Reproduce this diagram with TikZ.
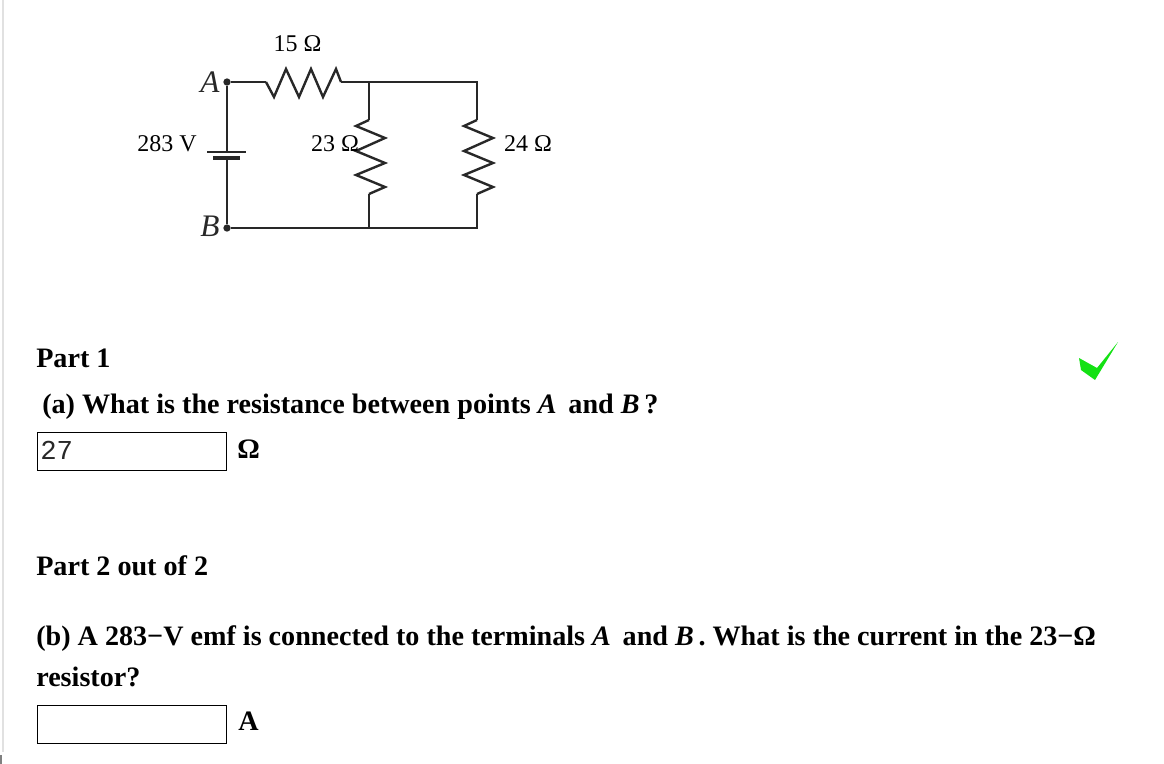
\documentclass[tikz,border=0pt]{standalone}
\usepackage{fontspec}
\setmainfont{Liberation Serif}
\newfontfamily\monofont{Liberation Mono}
\usepackage{xcolor}
\usetikzlibrary{positioning}
\definecolor{lgray}{RGB}{225,225,225}
\definecolor{wire}{RGB}{40,40,40}
\definecolor{tick}{RGB}{20,225,20}
\tikzstyle{Wire} = [line width=1.8pt, wire, line join=miter]
\tikzstyle{Dot} = [circle, fill=wire, inner sep=0pt, minimum size=5.5pt]
\tikzstyle{Value} = [inner sep=0pt, anchor=base, font=\fontsize{18}{18}\selectfont]
\tikzstyle{Terminal} = [inner sep=0pt, anchor=base, font=\fontsize{23.5}{23.5}\selectfont\itshape, wire]
\tikzstyle{Question} = [inner sep=0pt, anchor=base west, font=\fontsize{21.1}{24}\selectfont\bfseries]
\tikzstyle{Field} = [draw=black, line width=0.9pt, minimum width=142pt, minimum height=29pt, inner sep=0pt, anchor=north west]
\begin{document}
\begin{tikzpicture}[x=0.75pt, y=-0.75pt]
    \useasboundingbox (0,0) rectangle (1164,764);
    \draw[lgray, line width=1pt] (3,0) -- (3,752);
    \fill[gray] (0,755) rectangle (2,764);

    % circuit
    \node[Dot] (A) at (227,82) {};
    \node[Dot] (B) at (227,228) {};
    \coordinate (plus) at (227,152);
    \coordinate (minus) at (227,158);
    \coordinate (top1) at (369,82);
    \coordinate (top2) at (477,82);
    \coordinate (bot1) at (369,228);
    \coordinate (bot2) at (477,228);
    \coordinate (r1in) at (266,82);
    \coordinate (r1out) at (341,82);
    \coordinate (r2in) at (369,120);
    \coordinate (r2out) at (369,194);
    \coordinate (r3in) at (477,120);
    \coordinate (r3out) at (477,194);

    \draw[Wire] (A) -- (plus);
    \draw[Wire] (minus) -- (B);
    \draw[Wire, line width=1.2pt] (207,152) -- (246,152);
    \draw[Wire, line width=2.4pt] (213,158) -- (240,158);
    \draw[Wire] (A) -- (r1in);
    \draw[Wire] (r1out) -- (top1) -- (top2) -- (r3in);
    \draw[Wire] (top1) -- (r2in);
    \draw[Wire] (r2out) -- (bot1);
    \draw[Wire] (r3out) -- (bot2) -- (bot1) -- (B);

    \draw[Wire] (r1in) -- ++(8,15) -- ++(12,-28) -- ++(13,28) -- ++(12,-28) -- ++(12,28) -- ++(13,-28) -- (r1out);
    \draw[Wire] (r2in) -- ++(-13,6) -- ++(29,12) -- ++(-29,13) -- ++(29,12) -- ++(-29,12) -- ++(29,12) -- (r2out);
    \draw[Wire] (r3in) -- ++(-13,6) -- ++(29,12) -- ++(-29,13) -- ++(29,12) -- ++(-29,12) -- ++(29,12) -- (r3out);

    \node[Terminal] (labelA) at (210,92) {A};
    \node[Terminal] (labelB) at (210,236) {B};
    \node[Value] (val15) at (297.5,51) {15 Ω};
    \node[Value] (val23) at (335,151) {23 Ω};
    \node[Value] (val24) at (528,151) {24 Ω};
    \node[Value] (emf) at (167,151) {283 V};

    % questions
    \node[Question] (part1) at (36,367) {Part 1};
    \node[Question] (qa) at (42,413) {(a) What is the resistance between points \textit{A}\, and \textit{B}\,?};
    \node[Field] (field1) at (36.5,431.5) {};
    \node[inner sep=0pt, anchor=base west, font=\fontsize{20.5}{20.5}\monofont\selectfont, wire] (answer) at (40,459) {27};
    \node[Question] (ohm) at (237,458) {Ω};
    \node[Question] (part2) at (36,575) {Part 2 out of 2};
    \node[Question] (qb) at (36,645) {(b) A 283−V emf is connected to the terminals \textit{A}\, and \textit{B}\,. What is the current in the 23−Ω};
    \node[Question] (qb2) at (36,686) {resistor?};
    \node[Field] (field2) at (36.5,704.5) {};
    \node[Question] (amp) at (238,730) {A};

    % tick
    \fill[tick] (1079,358) -- (1081,370) -- (1095,380) -- (1118,342) -- (1097,368) -- cycle;
\end{tikzpicture}
\end{document}
